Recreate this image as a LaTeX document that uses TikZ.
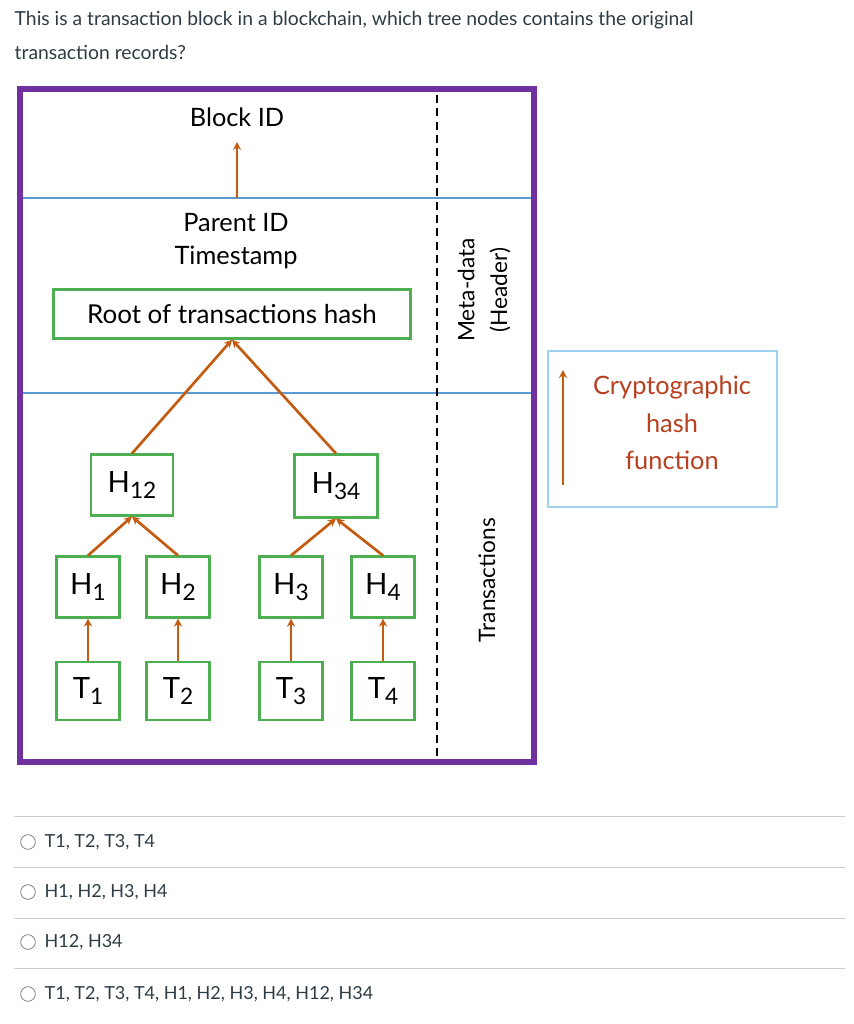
\documentclass[tikz,border=0pt]{standalone}
\usepackage{fontspec}
\setmainfont{Lato}
\usetikzlibrary{arrows.meta}
\definecolor{purp}{HTML}{7030A0}
\definecolor{blu}{HTML}{5B9BD5}
\definecolor{ora}{HTML}{C55A11}
\definecolor{leg}{HTML}{B8401E}
\definecolor{grn}{HTML}{4CAF50}
\definecolor{cy}{HTML}{9DD3F0}
\definecolor{txt}{HTML}{2D3B45}
\newcommand{\sbs}[1]{\raisebox{-0.35ex}{\fontsize{17}{17}\selectfont #1}}
\begin{document}
\begin{tikzpicture}[x=0.75pt,y=-0.75pt,
  box/.style={draw=grn,line width=1.8pt,inner sep=0pt,font=\fontsize{22}{22}\selectfont},
  ar/.style={ora,line width=2pt,-{Stealth[length=6pt,width=6pt]}},
  lbl/.style={font=\fontsize{19}{22}\selectfont,align=center},
  opt/.style={anchor=west,font=\fontsize{13.5}{15}\selectfont,text=txt},
  rad/.style={draw=gray,circle,minimum size=11pt,inner sep=0pt,line width=0.6pt}]
\useasboundingbox (0,0) rectangle (853,1024);
\node[anchor=west,font=\fontsize{14.5}{16}\selectfont,text=txt] (q1) at (10,20) {This is a transaction block in a blockchain, which tree nodes contains the original};
\node[anchor=west,font=\fontsize{14.5}{16}\selectfont,text=txt] (q2) at (10,52) {transaction records?};
% frame
\draw[purp,line width=5pt] (20,89) rectangle (534,762);
\draw[blu,line width=1.5pt] (23,198) -- (531,198);
\draw[blu,line width=1.5pt] (23,393) -- (531,393);
\draw[line width=2pt,dash pattern=on 6pt off 4pt] (437,95) -- (437,757);
\node[lbl] (bid) at (237,117) {Block ID};
\coordinate (bidb) at (237,198);
\draw[ar] (bidb) -- (237,142);
\node[lbl] (pid) at (236,223) {Parent ID};
\node[lbl] (ts) at (236,257) {Timestamp};
\node[box,minimum width=357pt*0.75,minimum height=49pt*0.75,font=\fontsize{19.5}{20}\selectfont] (root) at (232,314) {Root of transactions hash};
\node[box,minimum width=61.5pt,minimum height=45.5pt] (h12) at (132,485) {H\sbs{12}};
\node[box,minimum width=62pt,minimum height=47pt] (h34) at (336,486) {H\sbs{34}};
\foreach \i/\x in {1/88,2/178,3/291,4/383}{
  \node[box,minimum width=47pt,minimum height=45.5pt] (h\i) at (\x,587) {H\sbs{\i}};
  \node[box,minimum width=47pt,minimum height=43.5pt] (t\i) at (\x,691) {T\sbs{\i}};
  \draw[ar] (t\i) -- (h\i);
}
\draw[ar] (h1.north) -- (h12.south);
\draw[ar] (h2.north) -- (h12.south);
\draw[ar] (h3.north) -- (h34.south);
\draw[ar] (h4.north) -- (h34.south);
\draw[ar] (h12.north) -- (root.south);
\draw[ar] (h34.north) -- (root.south);
\node[lbl,rotate=90,font=\fontsize{17}{20}\selectfont] (md) at (466,290) {Meta-data};
\node[lbl,rotate=90,font=\fontsize{17}{20}\selectfont] (hd) at (500,290) {(Header)};
\node[lbl,rotate=90,font=\fontsize{17}{20}\selectfont] (tr) at (487,580) {Transactions};
% legend
\node[draw=cy,line width=1pt,minimum width=171.75pt,minimum height=117pt] (leg) at (662.5,429) {};
\coordinate (la) at (563,485);
\draw[ar] (la) -- (563,370);
\node[lbl,text=leg,font=\fontsize{19}{28}\selectfont] (lt) at (672,423) {Cryptographic\\hash\\function};
% options
\foreach \y in {816,867,918,968}{\draw[gray!40,line width=0.6pt] (14,\y) -- (845,\y);}
\node[rad] (r1) at (28,842) {}; \node[opt] (o1) at (40,842) {T1, T2, T3, T4};
\node[rad] (r2) at (28,892) {}; \node[opt] (o2) at (40,892) {H1, H2, H3, H4};
\node[rad] (r3) at (28,942) {}; \node[opt] (o3) at (40,942) {H12, H34};
\node[rad] (r4) at (28,994) {}; \node[opt] (o4) at (40,994) {T1, T2, T3, T4, H1, H2, H3, H4, H12, H34};
\end{tikzpicture}
\end{document}
